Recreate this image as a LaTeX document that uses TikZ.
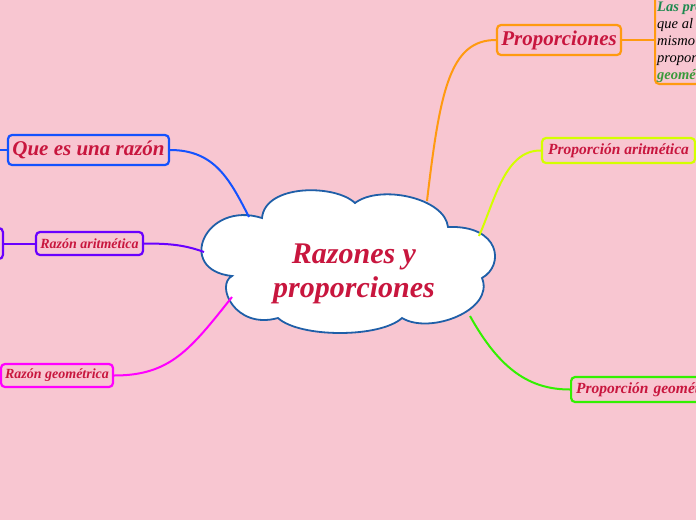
\documentclass[tikz,border=0pt]{standalone}
\usepackage{fontspec}
\setmainfont{Liberation Serif}
\definecolor{bg}{HTML}{F8C6D1}
\definecolor{txt}{HTML}{C8163E}
\definecolor{cloudline}{HTML}{1F5FA8}
\definecolor{corange}{HTML}{FF9A10}
\definecolor{cyellow}{HTML}{D4FF00}
\definecolor{cgreen}{HTML}{33F000}
\definecolor{cblue}{HTML}{1452FF}
\definecolor{cpurple}{HTML}{6A00FF}
\definecolor{cmagenta}{HTML}{FF00FF}
\definecolor{notegreen}{HTML}{1E8A50}
\definecolor{notegreen2}{HTML}{3A9A3A}
\tikzset{
  box/.style={draw, rounded corners=4pt, line width=2.2pt, fill=bg, inner sep=0pt,
    font=\bfseries\itshape, text=txt},
  bigbox/.style={box, font=\fontsize{21}{25}\selectfont\bfseries\itshape},
  smallbox/.style={box, font=\fontsize{14}{16}\selectfont\bfseries\itshape},
  conn/.style={line width=2pt}
}
\begin{document}
\begin{tikzpicture}[x=1pt,y=-1pt]
\fill[bg] (0,0) rectangle (696,520);
\useasboundingbox (0,0) rectangle (696,520);
\clip (0,0) rectangle (696,520);

% cloud
\draw[cloudline, fill=white, line width=1.8pt]
  (262,218) .. controls (205,200) and (175,270) .. (232,276)
  .. controls (215,285) and (235,330) .. (278,318)
  .. controls (300,338) and (380,338) .. (402,318)
  .. controls (430,335) and (495,310) .. (482,278)
  .. controls (505,265) and (500,225) .. (448,227)
  .. controls (445,198) and (380,184) .. (355,203)
  .. controls (335,184) and (265,184) .. cycle;
\node[text=txt, align=center, font=\fontsize{30}{34}\selectfont\bfseries\itshape] (center) at (354,274) {Razones y\\proporciones};

\coordinate (cO) at (427,201);
\coordinate (cY) at (479,236);
\coordinate (cG) at (470,316);
\coordinate (cB) at (249,217);
\coordinate (cP) at (204,252);
\coordinate (cM) at (232,297);

% boxes
\node[bigbox, draw=corange, minimum width=124pt, minimum height=30pt] (prop) at (559,40) {Proporciones};
\node[draw=corange, line width=2.2pt, rounded corners=4pt, minimum width=120pt, minimum height=100pt, anchor=south west] (note) at (654,85) {};
\node[anchor=north west, align=left, inner sep=0pt, font=\fontsize{14.5}{17}\selectfont\itshape] (notetext) at (657,1)
  {\textcolor{notegreen}{\bfseries Las proporciones}\\que al\\mismo\\proporción\\\textcolor{notegreen2}{\bfseries geométrica}};
\node[smallbox, draw=cyellow, minimum width=153pt, minimum height=25pt, font=\fontsize{15.5}{18}\selectfont\bfseries\itshape] (parit) at (618.5,150.5) {Proporción aritmética};
\node[smallbox, draw=cgreen, minimum height=25pt, anchor=west, text width=200pt, align=left, font=\fontsize{15.5}{18}\selectfont\bfseries\itshape] (pgeo) at (570,389.5) {\hspace*{5pt}Proporción geométrica};
\node[bigbox, draw=cblue, minimum width=161pt, minimum height=30pt] (que) at (88.5,150) {Que es una razón};
\node[smallbox, draw=cpurple, minimum width=107pt, minimum height=23pt] (rarit) at (89.5,243.5) {Razón aritmética};
\node[box, draw=cpurple, minimum width=60pt, minimum height=31pt, anchor=east] (rleft) at (4,243.5) {};
\node[smallbox, draw=cmagenta, minimum width=112pt, minimum height=23pt] (rgeo) at (57,375.5) {Razón geométrica};
\coordinate (qleft) at (-2,150);

% connectors
\draw[conn, corange] (cO) .. controls (440,90) and (450,40) .. (prop.west);
\draw[conn, corange] (prop.east) -- (note.west |- prop.east);
\draw[conn, cyellow] (cY) .. controls (495,200) and (505,150) .. (parit.west);
\draw[conn, cgreen] (cG) .. controls (500,370) and (530,389.5) .. (pgeo.west);
\draw[conn, cblue] (cB) .. controls (230,180) and (215,150) .. (que.east);
\draw[conn, cblue] (que.west) -- (qleft);
\draw[conn, cpurple] (cP) .. controls (185,245) and (170,243.5) .. (rarit.east);
\draw[conn, cpurple] (rarit.west) -- (rleft.east);
\draw[conn, cmagenta] (cM) .. controls (190,350) and (170,375.5) .. (rgeo.east);
\end{tikzpicture}
\end{document}
